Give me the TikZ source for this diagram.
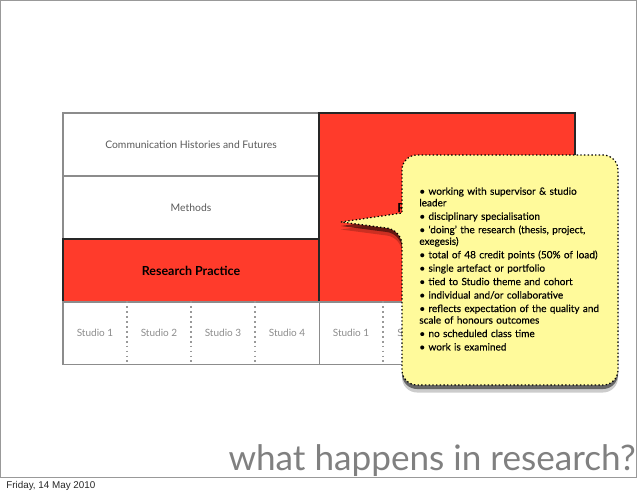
\documentclass[tikz,border=0pt]{standalone}
\usepackage{fontspec}
\setmainfont{Lato}
\newfontfamily\datefont{Liberation Sans}
\usetikzlibrary{positioning,shadows}
\definecolor{slidered}{RGB}{255,59,43}
\definecolor{notefill}{RGB}{255,250,155}
\begin{document}
\begin{tikzpicture}[x=0.02cm,y=-0.02cm,
    cell/.style={draw=black!45,line width=.7pt,minimum width=5.12cm,minimum height=1.26cm,inner sep=0pt,text=black!65,font=\fontsize{5.9}{8}\selectfont},
    redcell/.style={cell,draw=black!85,fill=slidered,text=black,font=\fontsize{7.1}{8}\selectfont\bfseries},
    studio/.style={minimum width=1.28cm,minimum height=1.25cm,inner sep=0pt,text=black!45,font=\fontsize{5.7}{8}\selectfont},
    divider/.style={black!40,line width=1pt,dash pattern=on 1pt off 1.8pt}]
  \useasboundingbox (0,0) rectangle (638,495);
  \node[draw=black!40,line width=.6pt,minimum width=12.72cm,minimum height=9.56cm,inner sep=0pt] (slide) at (318.5,239) {};
  \node[anchor=west,inner sep=0pt,font=\datefont\fontsize{5.6}{8}\selectfont,text=black!85] (date) at (6,486) {Friday, 14 May 2010};
  \node[anchor=base east,inner sep=0pt,text=black!50,font=\fontsize{20}{24}\selectfont] (title) at (636,470) {what happens in research?};

  % left column
  \node[cell] (histories) at (191,144.5) {Communication Histories and Futures};
  \node[cell] (methods) at (191,207.5) {Methods};
  \node[redcell] (practice) at (191,270.5) {Research Practice};
  % right column
  \node[redcell,minimum height=3.78cm] (project) at (447,207.5) {};
  \node[anchor=west,inner sep=0pt,font=\fontsize{7.1}{8}\selectfont\bfseries] (cutoff) at (397,207.5) {R};

  % studios
  \draw[black!45,line width=.9pt] (63,302) rectangle (575,364.5);
  \node[studio] (s1) at (95,333) {Studio 1};
  \node[studio] (s2) at (159,333) {Studio 2};
  \node[studio] (s3) at (223,333) {Studio 3};
  \node[studio] (s4) at (287,333) {Studio 4};
  \node[studio] (s5) at (351,333) {Studio 1};
  \node[anchor=west,inner sep=0pt,text=black!45,font=\fontsize{5.7}{8}\selectfont] (s6) at (397,333) {S};
  \draw[divider] (s1.north east) -- (s1.south east);
  \draw[divider] (s2.north east) -- (s2.south east);
  \draw[divider] (s3.north east) -- (s3.south east);
  \draw[divider] (s5.north east) -- (s5.south east);
  \draw[black!45,line width=.9pt] (s4.north east) -- (s4.south east);

  % the note
  \path[draw=black,line width=.7pt,dash pattern=on .8pt off 1.3pt,fill=notefill,
    general shadow={shadow xshift=0pt,shadow yshift=-.15cm,opacity=.2,fill=black},
    drop shadow={shadow xshift=0pt,shadow yshift=-.08cm,opacity=.5,fill=black}]
    (341,222) -- (402,213)
    [rounded corners=.3cm] -- (402,155) -- (618,155) -- (618,385) -- (402,385) -- (402,230)
    [sharp corners] -- cycle;
  \node[anchor=north west,inner sep=0pt,text width=3.9cm,align=left,text=black,
    font=\fontsize{5.7}{6.6}\selectfont\addfontfeature{FakeBold=.25}] (notes) at (419,187) {%
    \textbullet\ working with supervisor \& studio\\
    leader\\[1.05pt]
    \textbullet\ disciplinary specialisation\\[1.05pt]
    \textbullet\ `doing' the research (thesis, project,\\
    exegesis)\\[1.05pt]
    \textbullet\ total of 48 credit points (50\% of load)\\[1.05pt]
    \textbullet\ single artefact or portfolio\\[1.05pt]
    \textbullet\ tied to Studio theme and cohort\\[1.05pt]
    \textbullet\ individual and/or collaborative\\[1.05pt]
    \textbullet\ reflects expectation of the quality and\\
    scale of honours outcomes\\[1.05pt]
    \textbullet\ no scheduled class time\\[1.05pt]
    \textbullet\ work is examined};
\end{tikzpicture}
\end{document}
